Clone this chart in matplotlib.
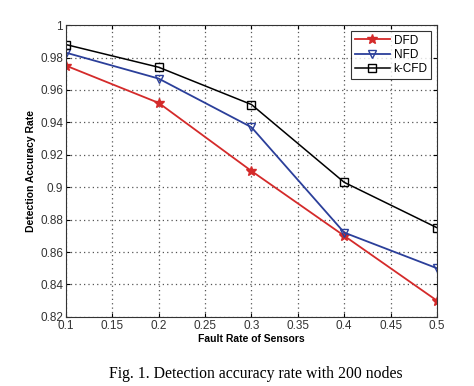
import matplotlib
matplotlib.use("Agg")
import matplotlib.pyplot as plt

fault_rate = [0.1, 0.2, 0.3, 0.4, 0.5]
dfd = [0.975, 0.952, 0.910, 0.870, 0.830]
nfd = [0.983, 0.967, 0.937, 0.872, 0.850]
kcfd = [0.988, 0.974, 0.951, 0.903, 0.875]

plt.rcParams['font.family'] = ['Liberation Sans', 'DejaVu Sans']

fig = plt.figure(figsize=(4.74, 3.86), dpi=100)
ax = fig.add_axes([0.139, 0.179, 0.783, 0.756])

ax.plot(fault_rate, dfd, color='#d42a2a', marker='*', markersize=7, lw=1.3,
        markerfacecolor='#d42a2a', label='DFD')
ax.plot(fault_rate, nfd, color='#2b3f9a', marker='v', markersize=6, lw=1.3,
        markerfacecolor='none', label='NFD')
ax.plot(fault_rate, kcfd, color='black', marker='s', markersize=6, lw=1.1,
        markerfacecolor='none', label='k-CFD')

ax.set_xlim(0.1, 0.5)
ax.set_ylim(0.82, 1.0)
ax.set_xticks([0.1, 0.15, 0.2, 0.25, 0.3, 0.35, 0.4, 0.45, 0.5])
ax.set_xticklabels(['0.1', '0.15', '0.2', '0.25', '0.3', '0.35', '0.4', '0.45', '0.5'])
ax.set_yticks([0.82, 0.84, 0.86, 0.88, 0.9, 0.92, 0.94, 0.96, 0.98, 1.0])
ax.set_yticklabels(['0.82', '0.84', '0.86', '0.88', '0.9', '0.92', '0.94', '0.96', '0.98', '1'])
ax.tick_params(labelsize=8.5, direction='in', length=3, top=True, right=True, pad=2,
               labelcolor='#333333')
ax.grid(True, linestyle=(0, (1, 2.5)), color='#555555', linewidth=0.9)
for s in ax.spines.values():
    s.set_color('#333333')

ax.set_xlabel('Fault Rate of Sensors', fontsize=7.5, fontweight='bold', labelpad=2)
ax.set_ylabel('Detection Accuracy Rate', fontsize=7.5, fontweight='bold', labelpad=3)

leg = ax.legend(loc='upper right', fontsize=8.5, frameon=True, fancybox=False,
                edgecolor='black', handlelength=3, borderaxespad=0.5,
                labelspacing=0.2, handletextpad=0.3, borderpad=0.3)
leg.get_frame().set_linewidth(0.8)

fig.text(0.54, 0.022, 'Fig. 1. Detection accuracy rate with 200 nodes',
         fontsize=11.3, family=['Liberation Serif', 'DejaVu Serif'], ha='center')

fig.savefig('out.png', dpi=100)
